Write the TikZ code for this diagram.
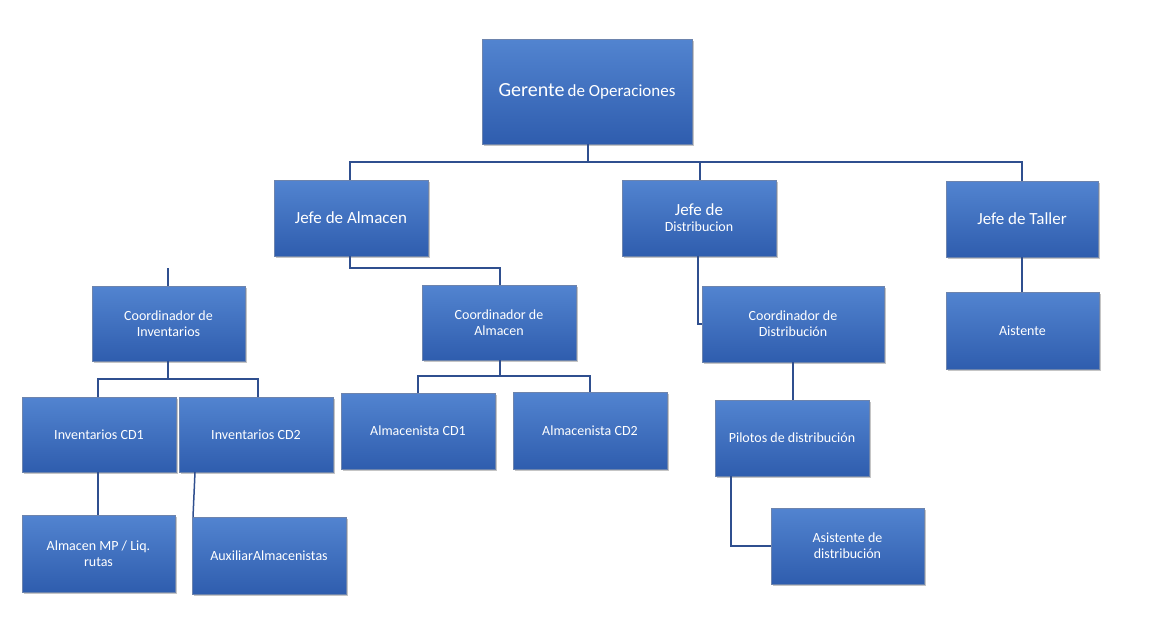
\documentclass[tikz,border=0pt]{standalone}
\usepackage{fontspec}
\setmainfont{Carlito}
\usetikzlibrary{shadows}
\definecolor{btop}{HTML}{5284D0}
\definecolor{bbot}{HTML}{2F5DAE}
\definecolor{bline}{HTML}{2E4F8A}
\definecolor{conn}{HTML}{2F4F8F}
\begin{document}
\begin{tikzpicture}[x=1pt,y=-1pt,
  box/.style={draw=bline!70,line width=0.6pt,top color=btop,bottom color=bbot,
    drop shadow={shadow xshift=2pt,shadow yshift=-2pt,fill=black!45,opacity=0.5},
    text=white,align=center,font=\fontsize{14}{16}\selectfont,inner sep=1pt},
  conn/.style={draw=conn,line width=1.5pt}]
\useasboundingbox (0,0) rectangle (1171,627);
\newcommand\bx[6]{\node[box,minimum width=#4-#2,minimum height=#5-#3] (#1) at ({(#2+#4)/2},{(#3+#5)/2}) {#6};}
\bx{g}{482}{39}{692}{144}{{\fontsize{20}{22}\selectfont Gerente} {\fontsize{17}{20}\selectfont de Operaciones}}
\bx{ja}{274}{180}{428}{256}{{\fontsize{17}{20}\selectfont Jefe de Almacen}}
\bx{jd}{622}{180}{776}{256}{\fontsize{17}{20}\selectfont Jefe de\\Distribucion}
\bx{jt}{946}{181}{1098}{257}{{\fontsize{17}{20}\selectfont Jefe de Taller}}
\bx{ci}{92}{286}{245}{361}{Coordinador de\\Inventarios}
\bx{ca}{422}{285}{576}{360}{Coordinador de\\Almacen}
\bx{cd}{702}{286}{884}{362}{Coordinador de\\Distribución}
\bx{as}{946}{292}{1099}{369}{Aistente}
\bx{i1}{22}{397}{176}{472}{Inventarios CD1}
\bx{i2}{179}{397}{333}{472}{Inventarios CD2}
\bx{a1}{341}{393}{495}{469}{Almacenista CD1}
\bx{a2}{513}{392}{667}{469}{Almacenista CD2}
\bx{pd}{715}{400}{869}{476}{Pilotos de distribución}
\bx{mp}{22}{515}{175}{592}{Almacen MP / Liq.\\rutas}
\bx{ax}{192}{517}{346}{594}{AuxiliarAlmacenistas}
\bx{ad}{771}{508}{924}{584}{Asistente de\\distribución}
\begin{scope}[on background layer/.style={}]
\draw[conn] (588,144) -- (588,162);
\draw[conn] (350,180) |- (1022,162) -- (1022,181);
\draw[conn] (700,162) -- (700,180);
\draw[conn] (350,256) |- (500,268) -- (500,285);
\draw[conn] (168,268) -- (168,286);
\draw[conn] (698,256) |- (cd.west);
\draw[conn] (1022,257) -- (1022,292);
\draw[conn] (168,361) -- (168,379);
\draw[conn] (98,397) |- (258,379) -- (258,397);
\draw[conn] (500,360) -- (500,376);
\draw[conn] (418,393) |- (590,376) -- (590,392);
\draw[conn] (793,362) -- (793,400);
\draw[conn] (731,476) |- (ad.west);
\draw[conn] (98,472) -- (98,515);
\draw[conn] (195,472) -- (193,517);
\end{scope}
\end{tikzpicture}
\end{document}
